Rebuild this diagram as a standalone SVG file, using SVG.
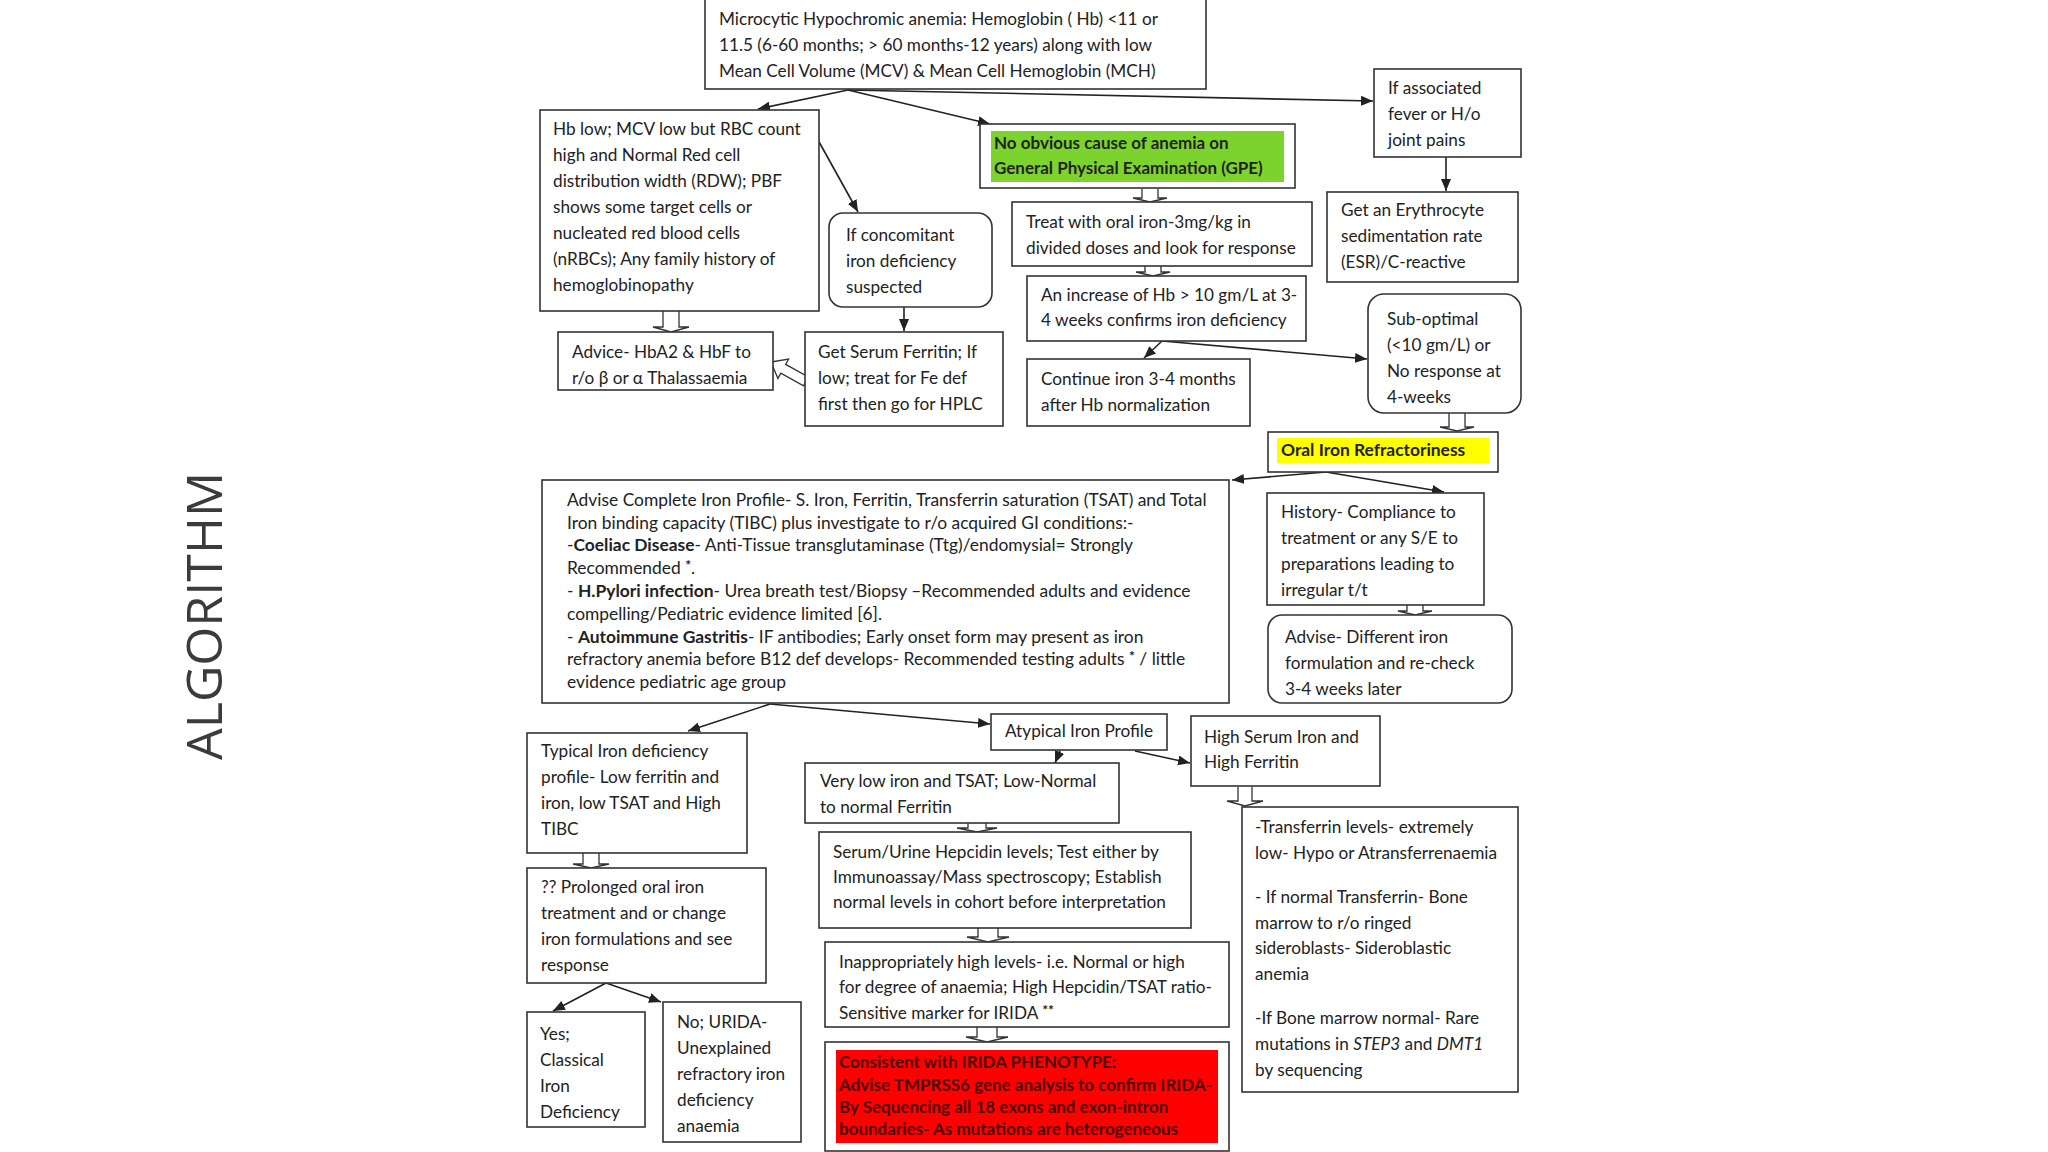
<svg xmlns="http://www.w3.org/2000/svg" width="2048" height="1152" viewBox="0 0 2048 1152">
<defs>
<marker id="ah" markerUnits="userSpaceOnUse" markerWidth="12" markerHeight="10" refX="12" refY="5" orient="auto">
<path d="M0,0 L12,5 L0,10 z" fill="#222"/>
</marker>
<style>
.box{fill:#fff;stroke:#333;stroke-width:1.6}
.t{font-family:Lato,"Liberation Sans",sans-serif;font-size:17.2px;fill:#222}
.s{font-size:17.4px}
.r{font-size:17px}
.b{font-weight:bold}
.i{font-style:italic}
.con{stroke:#222;stroke-width:1.6;fill:none;marker-end:url(#ah)}
.blk{fill:#fff;stroke:#333;stroke-width:1.3}
.red{fill:#4a0000}
.sup{font-size:14px;font-weight:bold}
</style>
</defs>
<rect width="2048" height="1152" fill="#fff"/>
<text x="222" y="760" transform="rotate(-90 222 760)" font-family="'Open Sans',sans-serif" font-size="50" fill="#3b3b3b" textLength="288" lengthAdjust="spacingAndGlyphs">ALGORITHM</text>

<g id="connectors">
<path class="con" d="M848,90 L758,109"/>
<path class="con" d="M848,90 L990,124"/>
<path class="con" d="M848,90 L1373,101"/>
<path class="con" d="M818,140 L858,212"/>
<path class="con" d="M1446,157 L1446,191"/>
<path class="con" d="M904,307 L904,331"/>
<path class="con" d="M1162,341 L1144,358"/>
<path class="con" d="M1162,341 L1367,359"/>
<path class="con" d="M1326,472 L1232,480"/>
<path class="con" d="M1326,472 L1444,492"/>
<path class="con" d="M770,704 L688,731"/>
<path class="con" d="M770,704 L990,724"/>
<path class="con" d="M1060,751 L1055,763"/>
<path class="con" d="M1135,751 L1190,763"/>
<path class="con" d="M606,983 L553,1011"/>
<path class="con" d="M606,983 L661,1002"/>
<path class="blk" d="M663,311 V327 H653 L671,332 L689,327 H679 V311"/>
<path class="blk" d="M1142,189 V198 H1133 L1150,202 L1167,198 H1158 V189"/>
<path class="blk" d="M1145,266 V272 H1136 L1153,276 L1170,272 H1161 V266"/>
<path class="blk" d="M1449,413 V427 H1440 L1457,431 L1474,427 H1465 V413"/>
<path class="blk" d="M1407,605 V611 H1398 L1415,615 L1432,611 H1423 V605"/>
<path class="blk" d="M583,853 V864 H573 L591,868 L609,864 H599 V853"/>
<path class="blk" d="M968,823 V828 H957 L977,832 L997,828 H986 V823"/>
<path class="blk" d="M978,928 V937 H967 L988,942 L1009,937 H998 V928"/>
<path class="blk" d="M977,1027 V1037 H966 L987,1042 L1008,1037 H997 V1027"/>
<path class="blk" d="M1238,787 V801 H1227 L1245,806 L1263,801 H1252 V787"/>
<path class="blk" transform="translate(771,362) rotate(29)" d="M0,0 L14,-11 L14,-5 L40,-5 L40,5 L14,5 L14,11 Z"/>
</g>

<g id="n-top">
<rect class="box" x="705" y="-1" width="501" height="90"/>
<text class="t" x="719" y="25">Microcytic Hypochromic anemia: Hemoglobin ( Hb) &lt;11 or</text>
<text class="t" x="719" y="51">11.5 (6-60 months; &gt; 60 months-12 years) along with low</text>
<text class="t" x="719" y="77">Mean Cell Volume (MCV) &amp; Mean Cell Hemoglobin (MCH)</text>
</g>

<g id="n-hblow">
<rect class="box" x="540" y="110" width="279" height="201"/>
<text class="t" x="553" y="135">Hb low; MCV low but RBC count</text>
<text class="t" x="553" y="161">high and Normal Red cell</text>
<text class="t" x="553" y="187">distribution width (RDW); PBF</text>
<text class="t" x="553" y="213">shows some target cells or</text>
<text class="t" x="553" y="239">nucleated red blood cells</text>
<text class="t" x="553" y="265">(nRBCs); Any family history of</text>
<text class="t" x="553" y="291">hemoglobinopathy</text>
</g>

<g id="n-gpe">
<rect class="box" x="980" y="124" width="315" height="64"/>
<rect x="991" y="131" width="293" height="51" fill="#7dd32e"/>
<text class="t b r" x="994" y="149">No obvious cause of anemia on</text>
<text class="t b r" x="994" y="174">General Physical Examination (GPE)</text>
</g>

<g id="n-fever">
<rect class="box" x="1374" y="69" width="147" height="88"/>
<text class="t" x="1388" y="94">If associated</text>
<text class="t" x="1388" y="120">fever or H/o</text>
<text class="t" x="1388" y="146">joint pains</text>
</g>

<g id="n-esr">
<rect class="box" x="1327" y="192" width="191" height="90"/>
<text class="t" x="1341" y="216">Get an Erythrocyte</text>
<text class="t" x="1341" y="242">sedimentation rate</text>
<text class="t" x="1341" y="268">(ESR)/C-reactive</text>
</g>

<g id="n-concomitant">
<rect class="box" x="829" y="213" width="163" height="94" rx="14"/>
<text class="t" x="846" y="241">If concomitant</text>
<text class="t" x="846" y="267">iron deficiency</text>
<text class="t" x="846" y="293">suspected</text>
</g>

<g id="n-treat">
<rect class="box" x="1012" y="202" width="300" height="64"/>
<text class="t" x="1026" y="228">Treat with oral iron-3mg/kg in</text>
<text class="t" x="1026" y="254">divided doses and look for response</text>
</g>

<g id="n-increase">
<rect class="box" x="1027" y="276" width="279" height="65"/>
<text class="t" x="1041" y="301">An increase of Hb &gt; 10 gm/L at 3-</text>
<text class="t" x="1041" y="326">4 weeks confirms iron deficiency</text>
</g>

<g id="n-advice">
<rect class="box" x="558" y="332" width="215" height="58"/>
<text class="t" x="572" y="358">Advice- HbA2 &amp; HbF to</text>
<text class="t" x="572" y="384">r/o β or α Thalassaemia</text>
</g>

<g id="n-ferritin">
<rect class="box" x="805" y="332" width="198" height="94"/>
<text class="t" x="818" y="358">Get Serum Ferritin; If</text>
<text class="t" x="818" y="384">low; treat for Fe def</text>
<text class="t" x="818" y="410">first then go for HPLC</text>
</g>

<g id="n-continue">
<rect class="box" x="1027" y="359" width="223" height="67"/>
<text class="t" x="1041" y="385">Continue iron 3-4 months</text>
<text class="t" x="1041" y="411">after Hb normalization</text>
</g>

<g id="n-suboptimal">
<rect class="box" x="1368" y="294" width="153" height="119" rx="16"/>
<text class="t" x="1387" y="325">Sub-optimal</text>
<text class="t" x="1387" y="351">(&lt;10 gm/L) or</text>
<text class="t" x="1387" y="377">No response at</text>
<text class="t" x="1387" y="403">4-weeks</text>
</g>

<g id="n-oral">
<rect class="box" x="1268" y="432" width="230" height="40"/>
<rect x="1277" y="438" width="212" height="25" fill="#ffff00"/>
<text class="t b s" x="1281" y="456">Oral Iron Refractoriness</text>
</g>

<g id="n-profile">
<rect class="box" x="542" y="480" width="687" height="223"/>
<text class="t s" x="567" y="506">Advise Complete Iron Profile- S. Iron, Ferritin, Transferrin saturation (TSAT) and Total</text>
<text class="t s" x="567" y="529">Iron binding capacity (TIBC) plus investigate to r/o acquired GI conditions:-</text>
<text class="t s" x="567" y="551">-<tspan class="b">Coeliac Disease</tspan>- Anti-Tissue transglutaminase (Ttg)/endomysial= Strongly</text>
<text class="t s" x="567" y="574">Recommended <tspan class="sup" dy="-4">*</tspan><tspan dy="4">.</tspan></text>
<text class="t s" x="567" y="597">- <tspan class="b">H.Pylori infection</tspan>- Urea breath test/Biopsy –Recommended adults and evidence</text>
<text class="t s" x="567" y="620">compelling/Pediatric evidence limited [6].</text>
<text class="t s" x="567" y="643">- <tspan class="b">Autoimmune Gastritis</tspan>- IF antibodies; Early onset form may present as iron</text>
<text class="t s" x="567" y="665">refractory anemia before B12 def develops- Recommended testing adults <tspan class="sup" dy="-4">*</tspan><tspan dy="4"> / little</tspan></text>
<text class="t s" x="567" y="688">evidence pediatric age group</text>
</g>

<g id="n-history">
<rect class="box" x="1267" y="493" width="217" height="112"/>
<text class="t" x="1281" y="518">History- Compliance to</text>
<text class="t" x="1281" y="544">treatment or any S/E to</text>
<text class="t" x="1281" y="570">preparations leading to</text>
<text class="t" x="1281" y="596">irregular t/t</text>
</g>

<g id="n-different">
<rect class="box" x="1268" y="615" width="244" height="88" rx="14"/>
<text class="t" x="1285" y="643">Advise- Different iron</text>
<text class="t" x="1285" y="669">formulation and re-check</text>
<text class="t" x="1285" y="695">3-4 weeks later</text>
</g>

<g id="n-atypical">
<rect class="box" x="991" y="714" width="176" height="36"/>
<text class="t" x="1079" y="737" text-anchor="middle">Atypical Iron Profile</text>
</g>

<g id="n-typical">
<rect class="box" x="527" y="733" width="220" height="120"/>
<text class="t" x="541" y="757">Typical Iron deficiency</text>
<text class="t" x="541" y="783">profile- Low ferritin and</text>
<text class="t" x="541" y="809">iron, low TSAT and High</text>
<text class="t" x="541" y="835">TIBC</text>
</g>

<g id="n-highserum">
<rect class="box" x="1191" y="716" width="189" height="70"/>
<text class="t" x="1204" y="743">High Serum Iron and</text>
<text class="t" x="1204" y="768">High Ferritin</text>
</g>

<g id="n-verylow">
<rect class="box" x="805" y="763" width="314" height="60"/>
<text class="t" x="820" y="787">Very low iron and TSAT; Low-Normal</text>
<text class="t" x="820" y="813">to normal Ferritin</text>
</g>

<g id="n-transferrin">
<rect class="box" x="1242" y="807" width="276" height="285"/>
<text class="t" x="1255" y="833">-Transferrin levels- extremely</text>
<text class="t" x="1255" y="859">low- Hypo or Atransferrenaemia</text>
<text class="t" x="1255" y="903">- If normal Transferrin- Bone</text>
<text class="t" x="1255" y="929">marrow to r/o ringed</text>
<text class="t" x="1255" y="954">sideroblasts- Sideroblastic</text>
<text class="t" x="1255" y="980">anemia</text>
<text class="t" x="1255" y="1024">-If Bone marrow normal- Rare</text>
<text class="t" x="1255" y="1050">mutations in <tspan class="i">STEP3</tspan> and <tspan class="i">DMT1</tspan></text>
<text class="t" x="1255" y="1076">by sequencing</text>
</g>

<g id="n-serum">
<rect class="box" x="819" y="832" width="372" height="96"/>
<text class="t" x="833" y="858">Serum/Urine Hepcidin levels; Test either by</text>
<text class="t" x="833" y="883">Immunoassay/Mass spectroscopy; Establish</text>
<text class="t" x="833" y="908">normal levels in cohort before interpretation</text>
</g>

<g id="n-prolonged">
<rect class="box" x="527" y="868" width="239" height="115"/>
<text class="t" x="541" y="893">?? Prolonged oral iron</text>
<text class="t" x="541" y="919">treatment and or change</text>
<text class="t" x="541" y="945">iron formulations and see</text>
<text class="t" x="541" y="971">response</text>
</g>

<g id="n-inapp">
<rect class="box" x="825" y="942" width="404" height="85"/>
<text class="t" x="839" y="968">Inappropriately high levels- i.e. Normal or high</text>
<text class="t" x="839" y="993">for degree of anaemia; High Hepcidin/TSAT ratio-</text>
<text class="t" x="839" y="1019">Sensitive marker for IRIDA <tspan class="sup" dy="-4">**</tspan></text>
</g>

<g id="n-yes">
<rect class="box" x="527" y="1012" width="118" height="115"/>
<text class="t" x="540" y="1040">Yes;</text>
<text class="t" x="540" y="1066">Classical</text>
<text class="t" x="540" y="1092">Iron</text>
<text class="t" x="540" y="1118">Deficiency</text>
</g>

<g id="n-no">
<rect class="box" x="663" y="1002" width="138" height="140"/>
<text class="t" x="677" y="1028">No; URIDA-</text>
<text class="t" x="677" y="1054">Unexplained</text>
<text class="t" x="677" y="1080">refractory iron</text>
<text class="t" x="677" y="1106">deficiency</text>
<text class="t" x="677" y="1132">anaemia</text>
</g>

<g id="n-irida">
<rect class="box" x="825" y="1042" width="404" height="109"/>
<rect x="836" y="1050" width="382" height="93" fill="#ff0000"/>
<text class="t r b red" x="839" y="1068">Consistent with IRIDA PHENOTYPE:</text>
<text class="t r b red" x="839" y="1091">Advise TMPRSS6 gene analysis to confirm IRIDA-</text>
<text class="t r b red" x="839" y="1113">By Sequencing all 18 exons and exon-intron</text>
<text class="t r b red" x="839" y="1135">boundaries- As mutations are heterogeneous</text>
</g>
</svg>
